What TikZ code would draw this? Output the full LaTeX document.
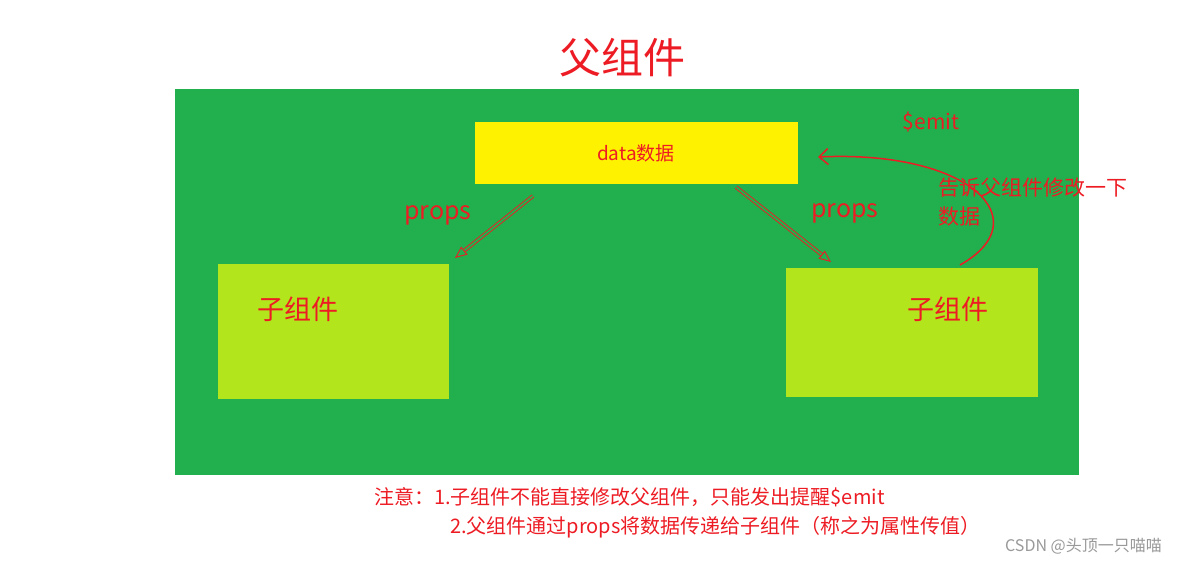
\documentclass[tikz,border=0pt]{standalone}
\usepackage{fontspec}
\setmainfont{Noto Sans CJK SC}
\usetikzlibrary{arrows.meta}
\definecolor{bggreen}{RGB}{34,176,78}
\definecolor{lgreen}{RGB}{179,229,29}
\definecolor{yel}{RGB}{255,242,0}
\definecolor{rd}{RGB}{237,28,36}
\begin{document}
\begin{tikzpicture}[x=1pt,y=-1pt,
  box/.style={inner sep=0pt,outer sep=0pt},
  lbl/.style={text=rd,inner sep=0pt,anchor=center},
  dbl/.style={draw=rd,line width=0.9pt,double=bggreen,double distance=2pt,-{Triangle[open,length=12pt,width=10pt]}}]
\useasboundingbox (0,0) rectangle (1177,565);
\fill[white] (0,0) rectangle (1177,565);
\node[lbl,font=\fontsize{42}{42}\selectfont] (title) at (622,58) {父组件};
\fill[bggreen] (175,89) rectangle (1079,475);
\fill[yel] (475,122) rectangle (798,184);
\coordinate (dtl) at (475,122);
\node[lbl,font=\fontsize{19}{19}\selectfont] (data) at (636,153) {data数据};
\fill[lgreen] (218,264) rectangle (449,399);
\fill[lgreen] (786,268) rectangle (1038,397);
\node[lbl,font=\fontsize{27}{27}\selectfont] (c1) at (298,309) {子组件};
\node[lbl,font=\fontsize{27}{27}\selectfont] (c2) at (948,309) {子组件};
\node[lbl,font=\fontsize{25}{25}\selectfont] (p1) at (438,215) {props};
\node[lbl,font=\fontsize{25}{25}\selectfont] (p2) at (845,213) {props};
\node[lbl,font=\fontsize{21}{21}\selectfont] (emit) at (931,122) {\$emit};
\node[lbl,font=\fontsize{21}{21}\selectfont,anchor=west] (tell1) at (938,188) {告诉父组件修改一下};
\node[lbl,font=\fontsize{21}{21}\selectfont,anchor=west] (tell2) at (938,217) {数据};
\coordinate (a1s) at (533,196); \coordinate (a1e) at (455,258);
\coordinate (a2s) at (736,187); \coordinate (a2e) at (831,262);
\draw[dbl] (a1s) -- (a1e);
\draw[dbl] (a2s) -- (a2e);
\coordinate (cs) at (960,265); \coordinate (ce) at (818,157);
\draw[rd,line width=1.5pt,-{Straight Barb[length=9pt,width=16pt]}] (cs) .. controls (1040,220) and (970,150) .. (ce);
\node[lbl,font=\fontsize{20}{20}\selectfont,anchor=west] (n1) at (374,497) {注意：1.子组件不能直接修改父组件，只能发出提醒\$emit};
\node[lbl,font=\fontsize{20}{20}\selectfont,anchor=west] (n2) at (450,527) {2.父组件通过props将数据传递给子组件（称之为属性传值）};
\node[text=gray!80,inner sep=0pt,anchor=east,font=\fontsize{16}{16}\selectfont] (wm) at (1162,546) {CSDN @头顶一只喵喵};
\end{tikzpicture}
\end{document}
